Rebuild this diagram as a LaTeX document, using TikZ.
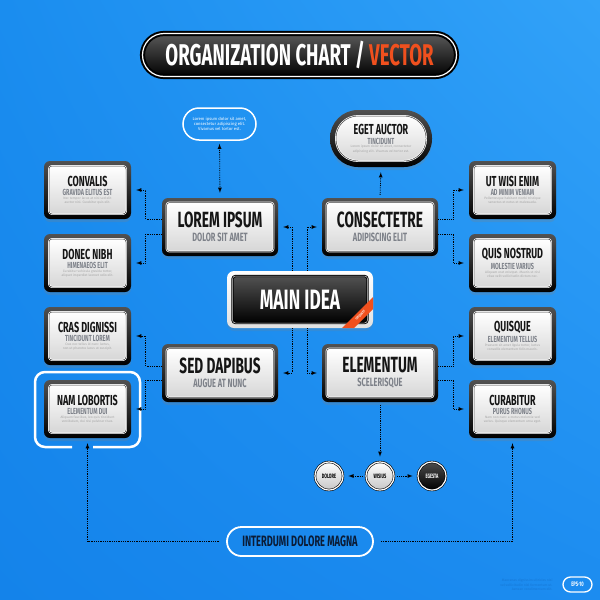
\documentclass[tikz,border=0pt]{standalone}
\usepackage{fontspec}
\setmainfont{Fira Sans}
\newfontfamily\condfont[FakeStretch=0.62]{Fira Sans}
\usetikzlibrary{arrows,shadows,shadings}

\definecolor{bgul}{HTML}{1A8DEF}
\definecolor{bgur}{HTML}{32A2F8}
\definecolor{bgll}{HTML}{1483EA}
\definecolor{bglr}{HTML}{1C8CF0}
\definecolor{vorange}{HTML}{F0501E}
\definecolor{subgray}{HTML}{7D8189}
\definecolor{ink}{HTML}{151515}
\definecolor{navy}{HTML}{0B1C36}
\definecolor{faint}{HTML}{1678D6}

\newcommand\titlefont{\condfont\bfseries\fontsize{30}{30}\selectfont}
\newcommand\bigname{\condfont\bfseries\fontsize{22}{22}\selectfont\color{ink}}
\newcommand\bigsub{\condfont\bfseries\fontsize{12}{12}\selectfont\color{subgray}}
\newcommand\smallname{\condfont\bfseries\fontsize{14.5}{14.5}\selectfont\color{ink}}
\newcommand\smallsub{\condfont\bfseries\fontsize{8.8}{8.8}\selectfont\color{subgray}}
\newcommand\tinytext{\fontsize{3.3}{3.3}\selectfont\color{black!35}}

\tikzset{
  orgframe/.style={rectangle, rounded corners=6pt, top color=black!68, bottom color=black,
    drop shadow={shadow xshift=0pt, shadow yshift=-3pt, opacity=0.25}},
  bigframe/.style={orgframe, minimum width=116pt, minimum height=58pt},
  smallframe/.style={orgframe, minimum width=87pt, minimum height=58pt},
  orgpanel/.style={rectangle, rounded corners=3pt, top color=white, bottom color=black!16,
    draw=white, double=black!75, line width=0.7pt, double distance=0.5pt,
    align=center, inner sep=0pt, font={\baselineskip=0pt\lineskip=1pt}},
  bigpanel/.style={orgpanel, minimum width=107pt, minimum height=49pt},
  smallpanel/.style={orgpanel, minimum width=77pt, minimum height=48pt},
  dotcircle/.style={circle, minimum size=28pt, inner sep=0pt, draw=black, double=white,
    line width=0.6pt, double distance=1.2pt, top color=white, bottom color=black!22,
    font=\condfont\bfseries\fontsize{6.3}{6.3}\selectfont},
  orglink/.style={densely dotted, line width=0.8pt, ->, >=latex, shorten >=5pt}
}

\begin{document}
\begin{tikzpicture}[x=1pt, y=-1pt]
	\shade[upper left=bgul, upper right=bgur, lower left=bgll, lower right=bglr] (0,0) rectangle (600,600);

	\node[rectangle, rounded corners=21.5pt, top color=black!65, bottom color=black, draw=black, double=white,
		line width=2pt, double distance=1.2pt, minimum width=314pt, minimum height=43pt,
		text=white, font=\titlefont] (title) at (299.5,55) {ORGANIZATION CHART / \textcolor{vorange}{VECTOR}};

	\node[draw=white, line width=1.5pt, rounded corners=16pt, minimum width=73pt, minimum height=32pt,
		align=center, text=white, font=\fontsize{4.2}{5}\selectfont] (info) at (219.5,124)
		{Lorem ipsum dolor sit amet,\\consectetur adipiscing elit.\\Vivamus vel tortor est.};

	\node[orgframe, rounded corners=28pt, minimum width=102pt, minimum height=57pt] (eget) at (381,138.5) {};
	\node[orgpanel, rounded corners=22pt, minimum width=90pt, minimum height=45pt] (eget-p) at (eget)
		{\smallname EGET AUCTOR\\[2pt] \smallsub TINCIDUNT\\ \tinytext Lorem ipsum dolor sit amet, consectetur\\ \tinytext adipiscing elit. Vivamus vel tortor est.};

	% main idea
	\node[rectangle, rounded corners=7pt, top color=white, bottom color=black!12, minimum width=146pt, minimum height=57pt,
		drop shadow={shadow xshift=0pt, shadow yshift=-3pt, opacity=0.2}] (main) at (300,299.5) {};
	\node[rectangle, rounded corners=3pt, top color=black!68, bottom color=black, draw=black, double=white!85!black,
		line width=0.9pt, double distance=0.5pt, minimum width=135pt, minimum height=47pt,
		text=white, font=\condfont\bfseries\fontsize{28}{28}\selectfont] (main-p) at (main) {MAIN IDEA};
	\fill[vorange] (342,328) -- (373,297) -- (373,309) -- (354,328) -- cycle;
	\node[rotate=45, text=white, inner sep=0pt, font=\condfont\bfseries\fontsize{3.4}{3.4}\selectfont] (ribbon) at (360.5,315.5) {TOP QUALITY};

	% left and right columns
	\node[smallframe] (convalis) at (87.5,190) {};
	\node[smallpanel] (convalis-p) at (convalis) {\smallname CONVALIS\\[2pt] \smallsub GRAVIDA ELITUS EST\\ \tinytext Nec tempor lacus at nisl sed elit\\ \tinytext auctor nisl. Curabitur quis elit.};
	\node[smallframe] (donec) at (87.5,263) {};
	\node[smallpanel] (donec-p) at (donec) {\smallname DONEC NIBH\\[2pt] \smallsub HIMENAEOS ELIT\\ \tinytext Curabitur vehicula gravida tortor,\\ \tinytext aliquet imperdiet laoreet odio elit.};
	\node[smallframe] (cras) at (87.5,336) {};
	\node[smallpanel] (cras-p) at (cras) {\smallname CRAS DIGNISSI\\[2pt] \smallsub TINCIDUNT LOREM\\ \tinytext Cras nec tellus id nunc luctus,\\ \tinytext non ut pharetra lacus ut suscipit.};
	\node[smallframe] (nam) at (87.5,409) {};
	\node[smallpanel] (nam-p) at (nam) {\smallname NAM LOBORTIS\\[2pt] \smallsub ELEMENTUM DUI\\ \tinytext Aliquam faucibus, leo quis tincidunt\\ \tinytext vestibulum, dui nisi pulvinar risus.};

	\node[smallframe] (utwisi) at (512.5,190) {};
	\node[smallpanel] (utwisi-p) at (utwisi) {\smallname UT WISI ENIM\\[2pt] \smallsub AD MINIM VENIAM\\ \tinytext Pellentesque habitant morbi tristique\\ \tinytext senectus et netus et malesuada.};
	\node[smallframe] (quis) at (512.5,263) {};
	\node[smallpanel] (quis-p) at (quis) {\smallname QUIS NOSTRUD\\[2pt] \smallsub MOLESTIE VARIUS\\ \tinytext Aliquam erat volutpat. Mauris ut nisl\\ \tinytext vitae velit sollicitudin dictum nec.};
	\node[smallframe] (quisque) at (512.5,336) {};
	\node[smallpanel] (quisque-p) at (quisque) {\smallname QUISQUE\\[2pt] \smallsub ELEMENTUM TELLUS\\ \tinytext Praesent sit amet ligula tortor, luctus\\ \tinytext convallis elementum felis mauris.};
	\node[smallframe] (curab) at (512.5,409) {};
	\node[smallpanel] (curab-p) at (curab) {\smallname CURABITUR\\[2pt] \smallsub PURUS RHONUS\\ \tinytext Nam non nunc a metus molestie sed\\ \tinytext varius. Quisque elementum urna eget.};

	% inner ring
	\node[bigframe] (lorem) at (220,227) {};
	\node[bigpanel] (lorem-p) at (lorem) {\bigname LOREM IPSUM\\[3.6pt] \bigsub DOLOR SIT AMET};
	\node[bigframe] (consec) at (380,227) {};
	\node[bigpanel] (consec-p) at (consec) {\bigname CONSECTETRE\\[3.6pt] \bigsub ADIPISCING ELIT};
	\node[bigframe] (sed) at (220,373) {};
	\node[bigpanel] (sed-p) at (sed) {\bigname SED DAPIBUS\\[3.6pt] \bigsub AUGUE AT NUNC};
	\node[bigframe] (elem) at (380,373) {};
	\node[bigpanel] (elem-p) at (elem) {\bigname ELEMENTUM\\[3.6pt] \bigsub SCELERISQUE};

	\draw[white, line width=2.5pt, rounded corners=10pt] (93,447) -- (140,447) -- (140,372) -- (35,372) -- (35,447) -- (72,447);

	\node[dotcircle] (dolore) at (329,476) {DOLORE};
	\node[dotcircle] (wisius) at (380,476) {WISIUS};
	\node[dotcircle, draw=black, double=white, top color=black!70, bottom color=black, text=white] (egesta) at (432,476) {EGESTA};

	\node[draw=white, line width=1.8pt, rounded corners=14.5pt, minimum width=146pt, minimum height=29pt,
		text=navy, font=\condfont\bfseries\fontsize{15}{15}\selectfont] (inter) at (300,541.5) {INTERDUMI DOLORE MAGNA};

	\node[anchor=east, align=right, text=faint, font=\fontsize{3.4}{4.6}\selectfont] (note) at (556,585)
		{Maecenas dignissim ultricies nisi\\vel sollicitudin nisl fermentum ut.\\Aenean condimentum elit.};
	\node[draw=white, line width=1.3pt, rounded corners=7.5pt, minimum width=29pt, minimum height=15pt, inner sep=0pt,
		text=white, font=\condfont\bfseries\fontsize{6.5}{6.5}\selectfont] (eps) at (577.5,584.5) {EPS-10};

	% connectors
	\draw[orglink] ([xshift=-8pt]main.north) |- (lorem.east);
	\draw[orglink] ([xshift=7pt]main.north) |- (consec.west);
	\draw[orglink] ([xshift=-8pt]main.south) |- (sed.east);
	\draw[orglink] ([xshift=7pt]main.south) |- (elem.west);

	\draw[orglink] ([yshift=8pt]lorem.west) -- ++(-16,0) |- (convalis.east);
	\draw[orglink] ([yshift=-7pt]lorem.west) -- ++(-16,0) |- (donec.east);
	\draw[orglink] ([yshift=7pt]sed.west) -- ++(-16,0) |- (cras.east);
	\draw[orglink] ([yshift=-7pt]sed.west) -- ++(-16,0) |- (nam.east);
	\draw[orglink] ([yshift=8pt]consec.east) -- ++(15,0) |- (utwisi.west);
	\draw[orglink] ([yshift=-7pt]consec.east) -- ++(15,0) |- (quis.west);
	\draw[orglink] ([yshift=7pt]elem.east) -- ++(15,0) |- (quisque.west);
	\draw[orglink] ([yshift=-7pt]elem.east) -- ++(15,0) |- (curab.west);

	\draw[orglink, <->, shorten <=3pt] (info.south) -- (lorem.north);
	\draw[orglink, shorten <=3pt] (consec.north) -- (eget.south);
	\draw[orglink, shorten <=3pt] (elem.south) -- (wisius.north);
	\draw[orglink, shorten <=3pt] (wisius.west) -- (dolore.east);
	\draw[orglink, shorten <=3pt] (wisius.east) -- (egesta.west);
	\draw[orglink, shorten <=7pt] (inter.west) -| (nam.south);
	\draw[orglink, shorten <=7pt] (inter.east) -| (curab.south);
\end{tikzpicture}
\end{document}
